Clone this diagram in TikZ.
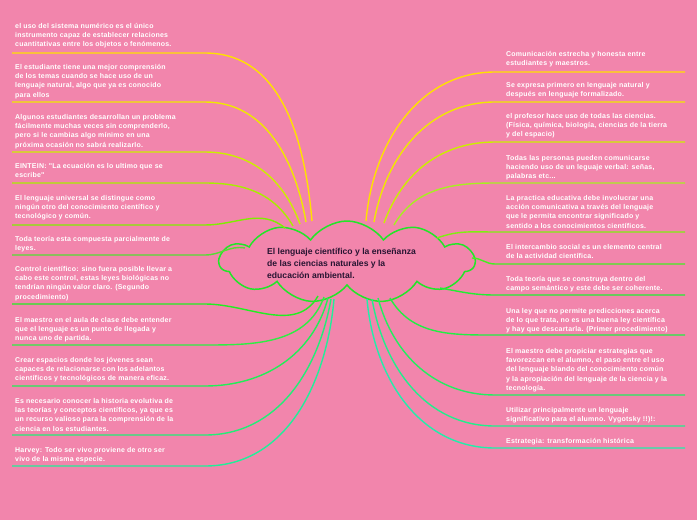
\documentclass[tikz,border=0pt]{standalone}
\usepackage{fontspec}
\setmainfont{Liberation Sans}
\newfontfamily\spacedfont[LetterSpace=3]{Liberation Sans}
\usetikzlibrary{shapes.symbols}
\definecolor{bg}{HTML}{F285AC}
\begin{document}
\begin{tikzpicture}[x=1pt,y=-1pt,
 txt/.style={anchor=north west,inner sep=0pt,align=left,text=white,font=\spacedfont\fontsize{7}{9.3}\selectfont\bfseries},
 br/.style={line width=1.4pt}]
\fill[bg] (0,0) rectangle (697,520);
\useasboundingbox (0,0) rectangle (697,520);
\node[cloud,cloud puffs=11,cloud puff arc=110,aspect=3.2,minimum width=255pt,minimum height=82pt,draw={rgb,255:red,34;green,230;blue,40},line width=1.5pt,inner sep=0pt] (c) at (347,262) {};
\node[anchor=north west,inner sep=0pt,align=left,font=\fontsize{8.6}{11.8}\selectfont\bfseries,text={rgb,255:red,40;green,20;blue,50}] (ct) at (267,248) {El lenguaje científico y la enseñanza\\ de las ciencias naturales y la\\ educación ambiental.};
% left
\foreach \i/\t/\u/\tx/\ty/\ia/\col/\s in {
 1/23/53/312/221/95/FFE100/{el uso del sistema numérico es el único\\instrumento capaz de establecer relaciones\\cuantitativas entre los objetos o fenómenos.},
 2/64/102/306/222/100/F0E800/{El estudiante tiene una mejor comprensión\\de los temas cuando se hace uso de un\\lenguaje natural, algo que ya es conocido\\para ellos},
 3/114/152/300/224/110/CCEE00/{Algunos estudiantes desarrollan un problema\\fácilmente muchas veces sin comprenderlo,\\pero si le cambias algo mínimo en una\\próxima ocasión no sabrá realizarlo.},
 4/163/183/293/226/120/A8EE00/{EINTEIN: "La ecuación es lo ultimo que se\\escribe"},
 5/195/225/285/228/140/7FEE00/{El lenguaje universal se distingue como\\ningún otro del conocimiento científico y\\tecnológico y común.},
 6/236/255/245/248/170/55DD33/{Toda teoría esta compuesta parcialmente de\\leyes.},
 7/266/304/318/296/240/22EE22/{Control científico: sino fuera posible llevar a\\cabo este control, estas leyes biológicas no\\tendrían ningún valor claro. (Segundo\\procedimiento)},
 8/317/345/324/297/250/2EEE44/{El maestro en el aula de clase debe entender\\que el lenguaje es un punto de llegada y\\nunca uno de partida.},
 9/357/386/328/298/255/22EE58/{Crear espacios donde los jóvenes sean\\capaces de relacionarse con los adelantos\\científicos y tecnológicos de manera eficaz.},
 10/398/435/331/299/260/22EE77/{Es necesario conocer la historia evolutiva de\\las teorías y conceptos científicos, ya que es\\un recurso valioso para la comprensión de  la\\ciencia en los estudiantes.},
 11/447/466/334/299/265/22EE99/{Harvey: Todo ser vivo proviene de otro ser\\vivo de la misma especie.}}{
 \definecolor{cc}{HTML}{\col}
 \node[txt] (L\i) at (15,\t) {\s};
 \coordinate (La\i) at (12,\u); \coordinate (Lb\i) at (205,\u); \coordinate (Lt\i) at (\tx,\ty);
 \draw[br,cc] (La\i) -- (Lb\i) to[out=0,in=\ia] (Lt\i);
}
% right
\foreach \i/\t/\u/\tx/\ty/\ia/\col/\s in {
 1/51/72/366/221/85/FFE100/{Comunicación estrecha y honesta entre\\estudiantes y maestros.},
 2/82/102/374/222/80/F0E800/{Se expresa primero en lenguaje natural y\\después en lenguaje formalizado.},
 3/113/142/384/223/70/CCEE00/{el profesor hace uso de todas las ciencias.\\(Física, química, biología, ciencias de la tierra\\y del espacio)},
 4/155/183/394/225/60/A8EE22/{Todas las personas pueden comunicarse\\haciendo uso de un leguaje verbal: señas,\\palabras etc...},
 5/195/232/437/238/20/7FEE11/{La practica educativa debe involucrar una\\acción comunicativa a través del lenguaje\\que le permita encontrar significado y\\sentido a los conocimientos científicos.},
 6/244/264/472/258/0/44EE22/{El intercambio social es un elemento central\\de la actividad científica.},
 7/276/295/440/288/-10/22EE33/{Toda teoría que se construya dentro del\\campo semántico y este debe ser coherente.},
 8/308/335/390/298/-60/22EE44/{Una ley que no permite predicciones acerca\\de lo que trata, no es una buena ley científica\\y hay que descartarla. (Primer procedimiento)},
 9/348/395/378/298/-75/22EE60/{El maestro debe propiciar estrategias que\\favorezcan en el alumno, el paso entre el uso\\del lenguaje blando del conocimiento común\\y la apropiación del lenguaje de la ciencia y la\\tecnología.},
 10/407/426/372/299/-80/22EE8C/{Utilizar principalmente un lenguaje\\significativo para el alumno. Vygotsky !!)!:},
 11/438/448/367/299/-85/22EEAA/{Estrategia: transformación histórica}}{
 \definecolor{cc}{HTML}{\col}
 \node[txt] (R\i) at (506,\t) {\s};
 \coordinate (Ra\i) at (685,\u); \coordinate (Rb\i) at (495,\u); \coordinate (Rt\i) at (\tx,\ty);
 \draw[br,cc] (Ra\i) -- (Rb\i) to[out=180,in=\ia] (Rt\i);
}
\end{tikzpicture}
\end{document}
